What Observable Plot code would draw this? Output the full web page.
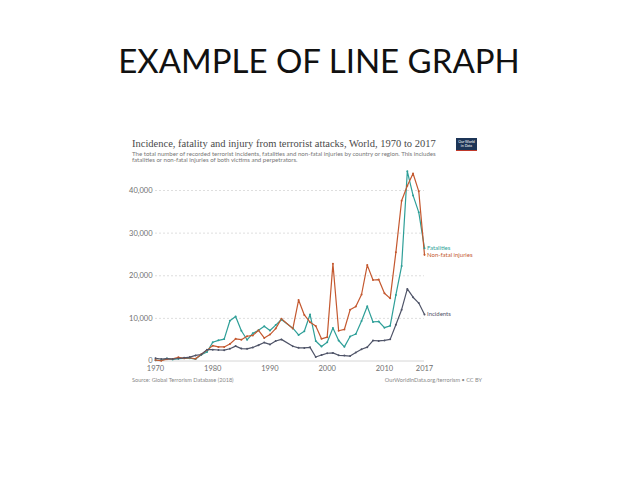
<!DOCTYPE html>
<html>
<head>
<meta charset="utf-8">
<script src="https://cdn.jsdelivr.net/npm/d3@7"></script>
<script src="https://cdn.jsdelivr.net/npm/@observablehq/plot@0.6"></script>
<style>
  html, body { margin: 0; padding: 0; background: #fff; }
  #slide { position: relative; width: 638px; height: 478px; background: #fff; overflow: hidden; }
  .abs { position: absolute; white-space: nowrap; }
  #slideTitle { left: 0; width: 638px; top: 40px; text-align: center; font-family: Lato, "Open Sans", sans-serif; font-size: 33px; color: #111; line-height: 40px; }
  #chartTitle { left: 132px; top: 138px; font-family: "Liberation Serif", serif; font-size: 10.5px; color: #4a4a4a; line-height: 12px; }
  #chartSub { left: 132px; top: 151px; font-family: Lato, sans-serif; font-size: 6.1px; color: #777; line-height: 6.4px; }
  #source { left: 132px; top: 376px; font-family: Lato, sans-serif; font-size: 5.6px; color: #888; }
  #credit { right: 156px; top: 376px; font-family: Lato, sans-serif; font-size: 5.6px; color: #888; }
  #logo { left: 456px; top: 138px; width: 21px; height: 13px; background: #1d3557; border-bottom: 1.5px solid #c0392b; box-sizing: border-box; color: #fff; font-family: Lato, sans-serif; font-size: 3.6px; line-height: 4px; text-align: center; padding-top: 2px; white-space: normal; }
  #plot { position: absolute; left: 0; top: 0; }
</style>
</head>
<body>
<div id="slide">
  <div id="plot"></div>
  <div id="slideTitle" class="abs">EXAMPLE OF LINE GRAPH</div>
  <div id="chartTitle" class="abs">Incidence, fatality and injury from terrorist attacks, World, 1970 to 2017</div>
  <div id="chartSub" class="abs">The total number of recorded terrorist incidents, fatalities and non-fatal injuries by country or region. This includes<br>fatalities or non-fatal injuries of both victims and perpetrators.</div>
  <div id="source" class="abs">Source: Global Terrorism Database (2018)</div>
  <div id="credit" class="abs">OurWorldInData.org/terrorism • CC BY</div>
  <div id="logo" class="abs">Our World<br>in Data</div>
</div>
<script>
// Years (1993 missing in the source data)
const years = [1970,1971,1972,1973,1974,1975,1976,1977,1978,1979,
  1980,1981,1982,1983,1984,1985,1986,1987,1988,1989,
  1990,1991,1992,1994,1995,1996,1997,1998,1999,
  2000,2001,2002,2003,2004,2005,2006,2007,2008,2009,
  2010,2011,2012,2013,2014,2015,2016,2017];

const fatalities = [174,173,566,370,539,617,674,456,1459,2100,
  4400,4851,5136,9444,10450,7094,4976,6483,7189,8136,
  7148,8429,9742,7690,6103,6966,10924,4688,3393,
  4403,7729,4805,3317,5743,6331,9380,12824,9157,9273,
  7827,8246,15497,22273,44490,38853,34871,26445];

const injuries = [212,82,409,495,865,617,756,518,1600,2500,
  3600,3300,3300,4000,5200,5000,5800,6000,7200,5400,
  6200,7600,9900,7600,14300,10800,9100,8200,5200,
  5600,22800,7100,7400,12000,12800,15600,22500,19000,19100,
  15900,14700,25500,37600,41100,44000,39800,24900];

const incidents = [651,471,568,473,581,740,923,1319,1526,2661,
  2662,2586,2544,2870,3495,2915,2860,3183,3721,4324,
  3887,4683,5071,3456,3081,3058,3197,934,1395,
  1814,1906,1333,1278,1166,2017,2758,3242,4805,4721,
  4826,5076,8522,12036,16903,14965,13587,10900];

const seriesNames = ["Fatalities", "Non-fatal injuries", "Incidents"];
const seriesColors = ["#2e9f98", "#c4582f", "#4f5468"];
const yTicks = [0, 10000, 20000, 30000, 40000];
const xTicks = [1970, 1980, 1990, 2000, 2010, 2017];

const seriesValues = [fatalities, injuries, incidents];
const rows = [];
seriesNames.forEach((name, i) => {
  years.forEach((yr, j) => rows.push({series: name, year: yr, value: seriesValues[i][j]}));
});
const lastRows = rows.filter(d => d.year === 2017);

const chart = Plot.plot({
  width: 638,
  height: 478,
  marginLeft: 155,
  marginRight: 214,
  marginTop: 168,
  marginBottom: 117.5,
  style: {background: "transparent", fontFamily: "Lato, sans-serif", fontSize: "7.5px", color: "#666"},
  x: {domain: [1970, 2017], range: [155, 424], label: null},
  y: {domain: [0, 40000], range: [360.5, 190], label: null},
  color: {domain: seriesNames, range: seriesColors},
  marks: [
    Plot.gridY(yTicks.filter(d => d > 0), {stroke: "#d0d0d0", strokeOpacity: 1, strokeDasharray: "2,2", strokeWidth: 0.7}),
    Plot.ruleY([0], {stroke: "#cccccc", strokeWidth: 0.8}),
    Plot.axisY(yTicks, {tickSize: 0, tickPadding: 3, tickFormat: d3.format(","), fill: "#707070", fontSize: 7.5, label: null}),
    Plot.axisX(xTicks, {tickSize: 0, tickPadding: 5, tickFormat: d => String(d), fill: "#707070", fontSize: 7.5, label: null}),
    Plot.line(rows, {x: "year", y: "value", z: "series", stroke: "series", strokeWidth: 1.2}),
    Plot.dot(rows, {x: "year", y: "value", fill: "series", r: 1}),
    Plot.text(lastRows, {x: "year", y: "value", text: "series", fill: "series", textAnchor: "start", dx: 2.5, fontSize: 6})
  ]
});
document.getElementById("plot").appendChild(chart);
</script>
</body>
</html>
